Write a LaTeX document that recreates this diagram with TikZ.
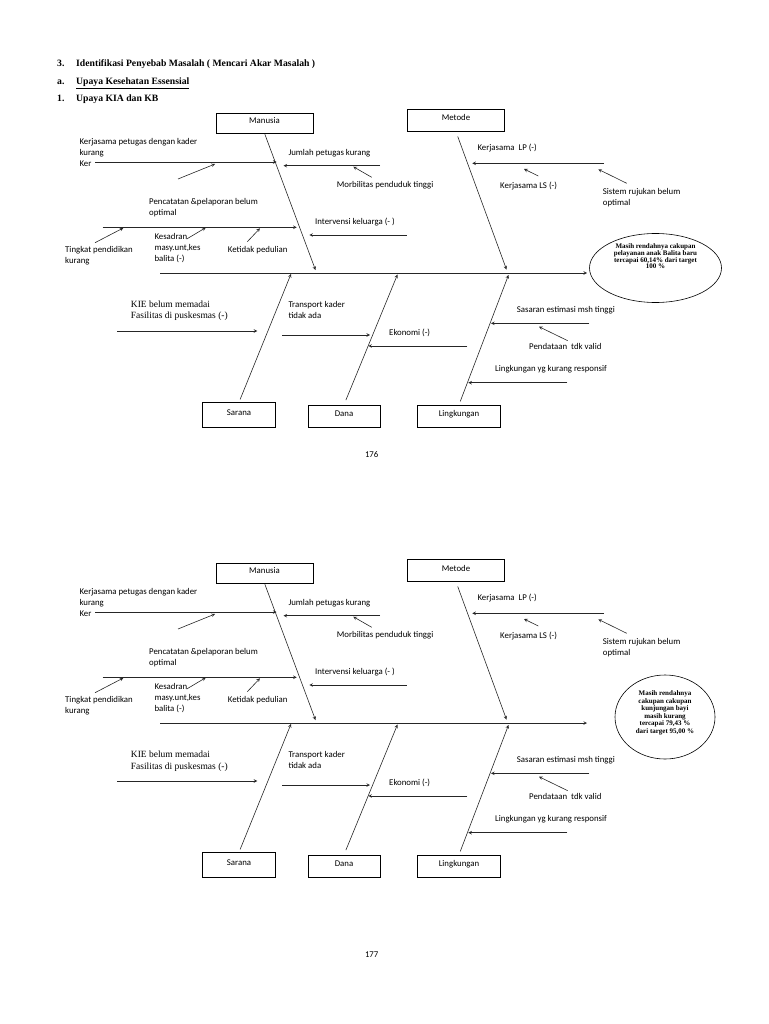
\documentclass[tikz,border=0pt]{standalone}
\usepackage{fontspec}
\setmainfont{Carlito}
\newfontfamily\tnr{Liberation Serif}
\usetikzlibrary{shapes.geometric}

\tikzstyle{headtext} = [anchor=base west, inner sep=0pt, font=\tnr\bfseries\fontsize{9.7}{12}\selectfont]
\tikzstyle{bonebox} = [rectangle, draw=black, line width=0.6pt, minimum width=97pt, minimum height=20pt, text height=6pt, text depth=5pt, font=\fontsize{8.8}{11}\selectfont]
\tikzstyle{cause} = [anchor=north west, align=left, inner sep=0pt, font=\fontsize{8.8}{11}\selectfont]
\tikzstyle{causetnr} = [cause, font=\tnr\fontsize{9.5}{11.7}\selectfont]
\tikzstyle{goal} = [ellipse, draw=black, line width=0.6pt, inner sep=0pt]
\tikzstyle{goaltext} = [align=center, inner sep=0pt, font=\tnr\bfseries\fontsize{7}{6.7}\selectfont]
\tikzstyle{pagenum} = [inner sep=0pt, font=\fontsize{8.8}{10}\selectfont]
\tikzstyle{flow} = [->, >=stealth, draw=black!85, line width=0.6pt]

\begin{document}
\begin{tikzpicture}[x=1pt, y=-1pt]
    \useasboundingbox (0,0) rectangle (768,1024);

    \node (h3) [headtext] at (57,67) {3.};
    \node (htitle) [headtext] at (76,67) {Identifikasi Penyebab Masalah ( Mencari Akar Masalah )};
    \node (ha) [headtext] at (57,84.5) {a.};
    \node (hsub) [headtext] at (76,84.5) {\underline{Upaya Kesehatan Essensial}};
    \node (h1) [headtext] at (57,101.5) {1.};
    \node (hkia) [headtext] at (76,101.5) {Upaya KIA dan KB};

    \foreach \dy in {0,450} {
    \begin{scope}[shift={(0,\dy)}]
        \node (manusia) [bonebox] at (264.5,123) {Manusia};
        \node (metode) [bonebox, minimum height=22pt] at (456,120.5) {Metode};
        \node (sarana) [bonebox, minimum width=73pt, minimum height=25pt] at (239,415) {Sarana};
        \node (dana) [bonebox, minimum width=72pt, minimum height=22pt] at (344,416) {Dana};
        \node (lingkungan) [bonebox, minimum width=83pt, minimum height=22pt] at (459,416) {Lingkungan};

        % spine and main bones
        \coordinate (tail) at (160,273);
        \coordinate (head) at (587,273);
        \coordinate (mtip) at (315.5,270);
        \coordinate (ttip) at (506.5,269.5);
        \coordinate (stip) at (291,274);
        \coordinate (dtip) at (397.5,274.5);
        \coordinate (ltip) at (508.5,275);
        \draw [flow] (tail) -- (head);
        \draw [flow, shorten <=1pt] (manusia.south) -- (mtip);
        \draw [flow, shorten <=5pt] (metode.south) -- (ttip);
        \draw [flow, shorten <=3pt] (sarana.north) -- (stip);
        \draw [flow, shorten <=5pt] (dana.north) -- (dtip);
        \draw [flow, shorten <=3.5pt] (lingkungan.north) -- (ltip);

        % Manusia
        \node (kerja) [cause] at (79.3,138.2) {Kerjasama petugas dengan kader\\kurang\\Ker};
        \node (jumlah) [cause] at (288.3,149.2) {Jumlah petugas kurang};
        \node (morbi) [cause] at (336.7,181.5) {Morbilitas penduduk tinggi};
        \node (catat) [cause] at (149,198.2) {Pencatatan \&pelaporan belum\\optimal};
        \node (didik) [cause] at (65,246.5) {Tingkat pendidikan\\kurang};
        \node (sadar) [cause] at (154.3,233.2) {Kesadran\\masy.unt,kes\\balita (-)};
        \node (peduli) [cause] at (227.7,246.5) {Ketidak pedulian};
        \node (interv) [cause] at (315,217.5) {Intervensi keluarga (- )};
        \coordinate (kerS) at (95,162);    \coordinate (kerE) at (276.5,162);
        \coordinate (kerbS) at (178,179);  \coordinate (kerbE) at (215,164);
        \coordinate (jmlS) at (380,165.7); \coordinate (jmlE) at (283.5,165.7);
        \coordinate (morS) at (371.7,177.3); \coordinate (morE) at (353.3,166.7);
        \coordinate (catS) at (102.7,227.3); \coordinate (catE) at (296.7,227.3);
        \coordinate (didS) at (95,242.7);  \coordinate (didE) at (123.3,228);
        \coordinate (sadS) at (186.7,239); \coordinate (sadE) at (205.7,227.7);
        \coordinate (pedS) at (247.3,241.7); \coordinate (pedE) at (260,228.3);
        \coordinate (intS) at (406.7,235); \coordinate (intE) at (309.3,235);
        \draw [flow] (kerS) -- (kerE);
        \draw [flow] (kerbS) -- (kerbE);
        \draw [flow] (jmlS) -- (jmlE);
        \draw [flow] (morS) -- (morE);
        \draw [flow] (catS) -- (catE);
        \draw [flow] (didS) -- (didE);
        \draw [flow] (sadS) -- (sadE);
        \draw [flow] (pedS) -- (pedE);
        \draw [flow] (intS) -- (intE);

        % Metode
        \node (lp) [cause] at (477.3,144.2) {Kerjasama \ LP (-)};
        \node (ls) [cause] at (500,181.5) {Kerjasama LS (-)};
        \node (rujuk) [cause] at (602.7,188.2) {Sistem rujukan belum\\optimal};
        \coordinate (lpS) at (604,163.3);  \coordinate (lpE) at (472.3,163.3);
        \coordinate (lsS) at (538.3,176);  \coordinate (lsE) at (524,169);
        \coordinate (rjS) at (626.7,183.3); \coordinate (rjE) at (598.3,169.3);
        \draw [flow] (lpS) -- (lpE);
        \draw [flow] (lsS) -- (lsE);
        \draw [flow] (rjS) -- (rjE);

        % Sarana, Dana
        \node (kie) [causetnr] at (130.7,300.5) {KIE belum memadai\\Fasilitas di puskesmas (-)};
        \node (trans) [cause] at (288.3,301.5) {Transport kader\\tidak ada};
        \node (eko) [cause] at (389,328.8) {Ekonomi (-)};
        \coordinate (kieS) at (117.3,331); \coordinate (kieE) at (257.3,331);
        \coordinate (trS) at (282.3,335);  \coordinate (trE) at (370,335);
        \coordinate (ekS) at (467.3,346);  \coordinate (ekE) at (368.3,346);
        \draw [flow] (kieS) -- (kieE);
        \draw [flow] (trS) -- (trE);
        \draw [flow] (ekS) -- (ekE);

        % Lingkungan
        \node (sasar) [cause] at (516.7,305.8) {Sasaran estimasi msh tinggi};
        \node (data) [cause] at (529,343.2) {Pendataan \ tdk valid};
        \node (respon) [cause] at (495,365.5) {Lingkungan yg kurang responsif};
        \coordinate (ssS) at (589.3,323.3); \coordinate (ssE) at (491,323.3);
        \coordinate (pdS) at (567.7,340.7); \coordinate (pdE) at (539,326.7);
        \coordinate (lgS) at (567.3,382.7); \coordinate (lgE) at (468.3,382.7);
        \draw [flow] (ssS) -- (ssE);
        \draw [flow] (pdS) -- (pdE);
        \draw [flow] (lgS) -- (lgE);
    \end{scope}
    }

    \node (goal1) [goal, minimum width=132pt, minimum height=69pt] at (655.5,268) {};
    \node (goal1txt) [goaltext] at (655.5,256.5) {Masih rendahnya cakupan\\pelayanan anak Balita baru\\tercapai 60,14\% dari target\\100 \%};
    \node (goal2) [goal, minimum width=100pt, minimum height=84pt] at (665,717) {};
    \node (goal2txt) [goaltext, font=\tnr\bfseries\fontsize{7}{7.5}\selectfont] at (665,713) {Masih rendahnya\\cakupan cakupan\\kunjungan bayi\\masih kurang\\tercapai 79,43 \%\\dari target 95,00 \%};

    \node (pg1) [pagenum] at (371.7,454.7) {176};
    \node (pg2) [pagenum] at (371.7,955) {177};
\end{tikzpicture}
\end{document}
